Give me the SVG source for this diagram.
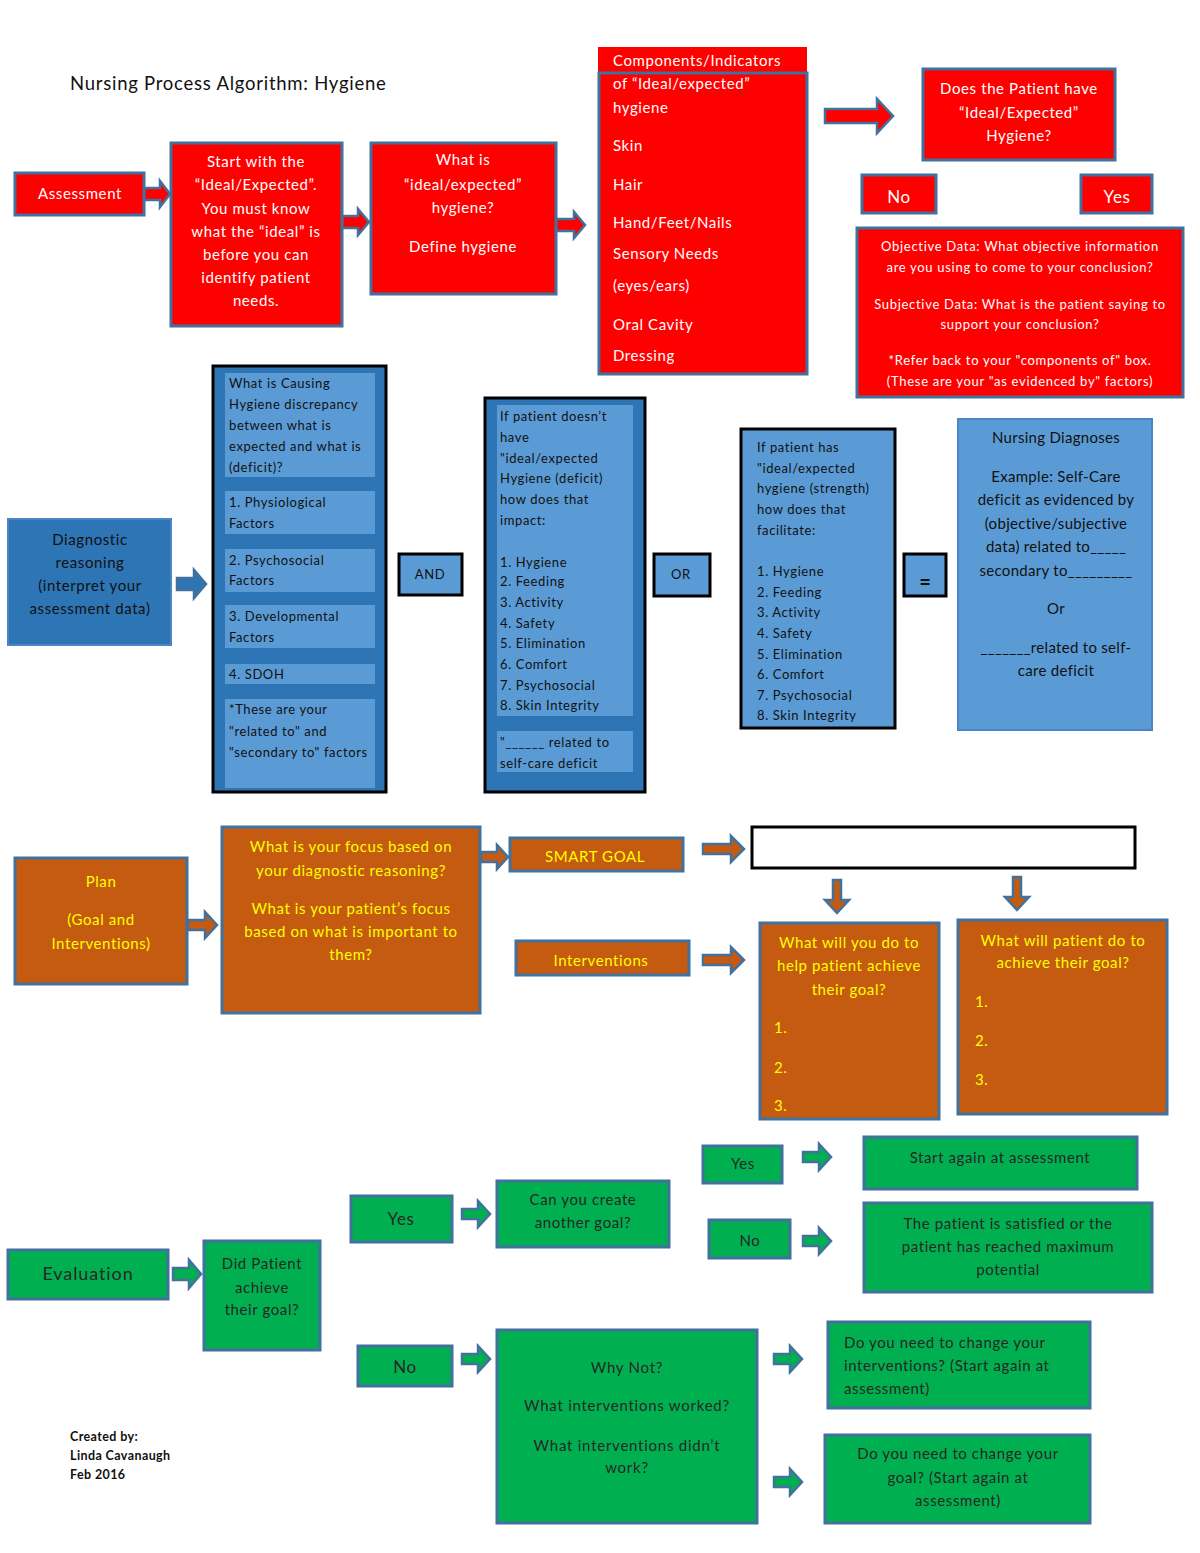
<svg xmlns="http://www.w3.org/2000/svg" width="1200" height="1553" viewBox="0 0 1200 1553">
<style>
text{font-family:Lato,"Liberation Sans",sans-serif;letter-spacing:0.6px}
.red{fill:#FF0000;stroke:#41719C;stroke-width:3}
.dk{fill:#2E75B6}
.lt{fill:#5B9BD5}
.blk{stroke:#000;stroke-width:3}
.bl{stroke:#4A86C5;stroke-width:2}
.or{fill:#C55A11;stroke:#41719C;stroke-width:3}
.gr{fill:#00B050;stroke:#41719C;stroke-width:3}
.ar{stroke:#41719C;stroke-width:2.5;stroke-linejoin:miter}
.w{fill:#fff;font-size:15px}
.k{fill:#111;font-size:13px}
.y{fill:#FFFF00;font-size:15px}
.g{fill:#262626;font-size:15px}
.c{text-anchor:middle}
</style>
<rect width="1200" height="1553" fill="#fff"/>
<text x="70" y="90" fill="#111" style="font-size:18.5px;letter-spacing:0.75px">Nursing Process Algorithm: Hygiene</text>

<g id="connectors">
<polygon class="ar" fill="#FF0000" points="144,188 160,188 160,181 170,194 160,207 160,200 144,200"/>
<polygon class="ar" fill="#FF0000" points="342,216 358,216 358,209 369,222 358,235 358,228 342,228"/>
<polygon class="ar" fill="#FF0000" points="556,219 574,219 574,212 585,225 574,238 574,231 556,231"/>
<polygon class="ar" fill="#FF0000" points="825,109 877,109 877,99 893,116 877,133 877,123 825,123"/>
<polygon class="ar" fill="#2E75B6" stroke="#2E75B6" points="177,578 194,578 194,570 206,584 194,598 194,590 177,590"/>
<polygon class="ar" fill="#C55A11" points="188,920 205,920 205,912 217,925 205,938 205,930 188,930"/>
<polygon class="ar" fill="#C55A11" points="481,852 497,852 497,845 508,857 497,869 497,862 481,862"/>
<polygon class="ar" fill="#C55A11" points="703,844 731,844 731,836 744,849 731,862 731,854 703,854"/>
<polygon class="ar" fill="#C55A11" points="703,955 731,955 731,947 744,960 731,973 731,965 703,965"/>
<polygon class="ar" fill="#C55A11" points="833,880 841,880 841,900 849,900 837,913 825,900 833,900"/>
<polygon class="ar" fill="#C55A11" points="1013,877 1021,877 1021,897 1029,897 1017,910 1005,897 1013,897"/>
<polygon class="ar" fill="#00B050" points="173,1268 189,1268 189,1260 201,1274 189,1288 189,1280 173,1280"/>
<polygon class="ar" fill="#00B050" points="462,1209 478,1209 478,1201 490,1214 478,1227 478,1219 462,1219"/>
<polygon class="ar" fill="#00B050" points="462,1354 478,1354 478,1346 490,1359 478,1372 478,1364 462,1364"/>
<polygon class="ar" fill="#00B050" points="803,1152 819,1152 819,1144 831,1157 819,1170 819,1162 803,1162"/>
<polygon class="ar" fill="#00B050" points="803,1236 819,1236 819,1228 831,1241 819,1254 819,1246 803,1246"/>
<polygon class="ar" fill="#00B050" points="774,1354 790,1354 790,1346 802,1359 790,1372 790,1364 774,1364"/>
<polygon class="ar" fill="#00B050" points="774,1477 790,1477 790,1469 802,1482 790,1495 790,1487 774,1487"/>
</g>

<g id="assessment"><rect class="red" x="15" y="173" width="129" height="42"/><text class="w c" x="80" y="199">Assessment</text></g>
<g id="start-ideal"><rect class="red" x="171" y="143" width="171" height="183"/>
<text class="w c" x="256"><tspan x="256" y="167">Start with the</tspan><tspan x="256" y="190">“Ideal/Expected”.</tspan><tspan x="256" y="214">You must know</tspan><tspan x="256" y="237">what the “ideal” is</tspan><tspan x="256" y="260">before you can</tspan><tspan x="256" y="283">identify patient</tspan><tspan x="256" y="306">needs.</tspan></text></g>
<g id="what-is-ideal"><rect class="red" x="371" y="143" width="185" height="151"/>
<text class="w c"><tspan x="463" y="165">What is</tspan><tspan x="463" y="190">“ideal/expected”</tspan><tspan x="463" y="213">hygiene?</tspan><tspan x="463" y="252">Define hygiene</tspan></text></g>
<g id="components"><rect x="598" y="47" width="209" height="26" fill="#FF0000"/><rect class="red" x="599" y="73" width="208" height="301"/>
<text class="w"><tspan x="613" y="66">Components/Indicators</tspan><tspan x="613" y="89">of “Ideal/expected”</tspan><tspan x="613" y="113">hygiene</tspan><tspan x="613" y="151">Skin</tspan><tspan x="613" y="190">Hair</tspan><tspan x="613" y="228">Hand/Feet/Nails</tspan><tspan x="613" y="259">Sensory Needs</tspan><tspan x="613" y="291">(eyes/ears)</tspan><tspan x="613" y="330">Oral Cavity</tspan><tspan x="613" y="361">Dressing</tspan></text></g>
<g id="does-patient"><rect class="red" x="923" y="69" width="192" height="91"/>
<text class="w c"><tspan x="1019" y="94">Does the Patient have</tspan><tspan x="1019" y="118">“Ideal/Expected”</tspan><tspan x="1019" y="141">Hygiene?</tspan></text></g>
<g id="no-top"><rect class="red" x="862" y="175" width="74" height="38"/><text class="w c" x="899" y="203" style="font-size:17px">No</text></g>
<g id="yes-top"><rect class="red" x="1081" y="175" width="71" height="38"/><text class="w c" x="1117" y="203" style="font-size:17px">Yes</text></g>
<g id="objective"><rect class="red" x="857" y="228" width="326" height="169"/>
<text class="w c" style="font-size:13px;letter-spacing:0.7px"><tspan x="1020" y="251">Objective Data: What objective information</tspan><tspan x="1020" y="272">are you using to come to your conclusion?</tspan><tspan x="1020" y="309">Subjective Data: What is the patient saying to</tspan><tspan x="1020" y="329">support your conclusion?</tspan><tspan x="1020" y="365">*Refer back to your "components of" box.</tspan><tspan x="1020" y="386">(These are your "as evidenced by" factors)</tspan></text></g>

<g id="diagnostic"><rect class="dk bl" x="8" y="519" width="163" height="126"/>
<text class="k c" style="font-size:15px"><tspan x="90" y="545">Diagnostic</tspan><tspan x="90" y="568">reasoning</tspan><tspan x="90" y="591">(interpret your</tspan><tspan x="90" y="614">assessment data)</tspan></text></g>
<g id="causes"><rect class="dk blk" x="213" y="366" width="173" height="426"/>
<rect class="lt" x="225" y="373" width="150" height="104"/><rect class="lt" x="225" y="491" width="150" height="43"/><rect class="lt" x="225" y="549" width="150" height="43"/><rect class="lt" x="225" y="605" width="150" height="43"/><rect class="lt" x="225" y="664" width="150" height="20"/><rect class="lt" x="225" y="699" width="150" height="89"/>
<text class="k"><tspan x="229" y="388">What is Causing</tspan><tspan x="229" y="409">Hygiene discrepancy</tspan><tspan x="229" y="430">between what is</tspan><tspan x="229" y="451">expected and what is</tspan><tspan x="229" y="472">(deficit)?</tspan><tspan x="229" y="507">1. Physiological</tspan><tspan x="229" y="528">Factors</tspan><tspan x="229" y="565">2. Psychosocial</tspan><tspan x="229" y="585">Factors</tspan><tspan x="229" y="621">3. Developmental</tspan><tspan x="229" y="642">Factors</tspan><tspan x="229" y="679">4. SDOH</tspan><tspan x="229" y="714">*These are your</tspan><tspan x="229" y="736">"related to" and</tspan><tspan x="229" y="757">"secondary to" factors</tspan></text></g>
<g id="and"><rect class="lt blk" x="399" y="554" width="63" height="41"/><text class="k c" x="430" y="579">AND</text></g>
<g id="deficit"><rect class="dk blk" x="485" y="398" width="160" height="394"/>
<rect class="lt" x="497" y="405" width="136" height="311"/><rect class="lt" x="497" y="731" width="136" height="41"/>
<text class="k"><tspan x="500" y="421">If patient doesn’t</tspan><tspan x="500" y="442">have</tspan><tspan x="500" y="463">"ideal/expected</tspan><tspan x="500" y="483">Hygiene (deficit)</tspan><tspan x="500" y="504">how does that</tspan><tspan x="500" y="525">impact:</tspan><tspan x="500" y="567">1. Hygiene</tspan><tspan x="500" y="586">2. Feeding</tspan><tspan x="500" y="607">3. Activity</tspan><tspan x="500" y="628">4. Safety</tspan><tspan x="500" y="648">5. Elimination</tspan><tspan x="500" y="669">6. Comfort</tspan><tspan x="500" y="690">7. Psychosocial</tspan><tspan x="500" y="710">8. Skin Integrity</tspan><tspan x="500" y="747">"______ related to</tspan><tspan x="500" y="768">self-care deficit</tspan></text></g>
<g id="or"><rect class="lt blk" x="654" y="554" width="56" height="42"/><text class="k c" x="681" y="579">OR</text></g>
<g id="strength"><rect class="lt blk" x="741" y="429" width="154" height="299"/>
<text class="k"><tspan x="757" y="452">If patient has</tspan><tspan x="757" y="473">"ideal/expected</tspan><tspan x="757" y="493">hygiene (strength)</tspan><tspan x="757" y="514">how does that</tspan><tspan x="757" y="535">facilitate:</tspan><tspan x="757" y="576">1. Hygiene</tspan><tspan x="757" y="597">2. Feeding</tspan><tspan x="757" y="617">3. Activity</tspan><tspan x="757" y="638">4. Safety</tspan><tspan x="757" y="659">5. Elimination</tspan><tspan x="757" y="679">6. Comfort</tspan><tspan x="757" y="700">7. Psychosocial</tspan><tspan x="757" y="720">8. Skin Integrity</tspan></text></g>
<g id="equals"><rect class="lt blk" x="904" y="554" width="42" height="42"/><text class="k c" x="925" y="589" style="font-size:20px;font-weight:bold;letter-spacing:0">=</text></g>
<g id="nursing-diagnoses"><rect class="lt bl" x="958" y="419" width="194" height="311"/>
<text class="k c" style="font-size:15px;letter-spacing:0.3px"><tspan x="1056" y="443">Nursing Diagnoses</tspan><tspan x="1056" y="482">Example: Self-Care</tspan><tspan x="1056" y="505">deficit as evidenced by</tspan><tspan x="1056" y="529">(objective/subjective</tspan><tspan x="1056" y="552">data) related to_____</tspan><tspan x="1056" y="576">secondary to_________</tspan><tspan x="1056" y="614">Or</tspan><tspan x="1056" y="653">_______related to self-</tspan><tspan x="1056" y="676">care deficit</tspan></text></g>

<g id="plan"><rect class="or" x="15" y="858" width="172" height="126"/>
<text class="y c"><tspan x="101" y="887">Plan</tspan><tspan x="101" y="925">(Goal and</tspan><tspan x="101" y="949">Interventions)</tspan></text></g>
<g id="focus"><rect class="or" x="222" y="827" width="258" height="186"/>
<text class="y c"><tspan x="351" y="852">What is your focus based on</tspan><tspan x="351" y="876">your diagnostic reasoning?</tspan><tspan x="351" y="914">What is your patient’s focus</tspan><tspan x="351" y="937">based on what is important to</tspan><tspan x="351" y="960">them?</tspan></text></g>
<g id="smart-goal"><rect class="or" x="510" y="838" width="173" height="33"/><text class="y c" x="595" y="862">SMART GOAL</text></g>
<g id="goal-blank"><rect x="752" y="827" width="383" height="41" fill="#fff" stroke="#000" stroke-width="3"/></g>
<g id="interventions"><rect class="or" x="516" y="941" width="173" height="34"/><text class="y c" x="601" y="966">Interventions</text></g>
<g id="nurse-do"><rect class="or" x="760" y="923" width="179" height="196"/>
<text class="y c"><tspan x="849" y="948">What will you do to</tspan><tspan x="849" y="971">help patient achieve</tspan><tspan x="849" y="995">their goal?</tspan></text>
<text class="y"><tspan x="774" y="1033">1.</tspan><tspan x="774" y="1073">2.</tspan><tspan x="774" y="1111">3.</tspan></text></g>
<g id="patient-do"><rect class="or" x="958" y="920" width="209" height="194"/>
<text class="y c"><tspan x="1063" y="946">What will patient do to</tspan><tspan x="1063" y="968">achieve their goal?</tspan></text>
<text class="y"><tspan x="975" y="1007">1.</tspan><tspan x="975" y="1046">2.</tspan><tspan x="975" y="1085">3.</tspan></text></g>

<g id="evaluation"><rect class="gr" x="8" y="1250" width="160" height="49"/><text class="g c" x="88" y="1280" style="font-size:18px;letter-spacing:0.9px">Evaluation</text></g>
<g id="did-patient"><rect class="gr" x="204" y="1241" width="116" height="109"/>
<text class="g c"><tspan x="262" y="1269">Did Patient</tspan><tspan x="262" y="1293">achieve</tspan><tspan x="262" y="1315">their goal?</tspan></text></g>
<g id="yes-eval"><rect class="gr" x="351" y="1196" width="101" height="46"/><text class="g c" x="401" y="1225" style="font-size:17px">Yes</text></g>
<g id="another-goal"><rect class="gr" x="497" y="1181" width="172" height="66"/>
<text class="g c"><tspan x="583" y="1205">Can you create</tspan><tspan x="583" y="1228">another goal?</tspan></text></g>
<g id="yes-again"><rect class="gr" x="703" y="1146" width="79" height="37"/><text class="g c" x="743" y="1169">Yes</text></g>
<g id="start-again"><rect class="gr" x="864" y="1137" width="273" height="52"/><text class="g c" x="1000" y="1163">Start again at assessment</text></g>
<g id="no-again"><rect class="gr" x="709" y="1220" width="81" height="38"/><text class="g c" x="750" y="1246">No</text></g>
<g id="satisfied"><rect class="gr" x="864" y="1203" width="288" height="89"/>
<text class="g c"><tspan x="1008" y="1229">The patient is satisfied or the</tspan><tspan x="1008" y="1252">patient has reached maximum</tspan><tspan x="1008" y="1275">potential</tspan></text></g>
<g id="no-eval"><rect class="gr" x="358" y="1346" width="94" height="40"/><text class="g c" x="405" y="1373" style="font-size:17px">No</text></g>
<g id="why-not"><rect class="gr" x="497" y="1330" width="260" height="193"/>
<text class="g c" style="letter-spacing:0.75px"><tspan x="627" y="1373">Why Not?</tspan><tspan x="627" y="1411">What interventions worked?</tspan><tspan x="627" y="1451">What interventions didn’t</tspan><tspan x="627" y="1473">work?</tspan></text></g>
<g id="change-interventions"><rect class="gr" x="828" y="1322" width="262" height="86"/>
<text class="g"><tspan x="844" y="1348">Do you need to change your</tspan><tspan x="844" y="1371">interventions? (Start again at</tspan><tspan x="844" y="1394">assessment)</tspan></text></g>
<g id="change-goal"><rect class="gr" x="825" y="1435" width="265" height="88"/>
<text class="g c"><tspan x="958" y="1459">Do you need to change your</tspan><tspan x="958" y="1483">goal? (Start again at</tspan><tspan x="958" y="1506">assessment)</tspan></text></g>

<text fill="#111" style="font-size:12.5px;font-weight:bold;letter-spacing:0.4px"><tspan x="70" y="1441">Created by:</tspan><tspan x="70" y="1460">Linda Cavanaugh</tspan><tspan x="70" y="1479">Feb 2016</tspan></text>
</svg>
